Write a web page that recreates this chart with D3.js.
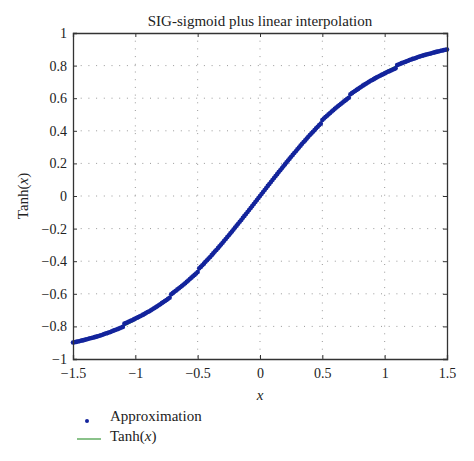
<!DOCTYPE html>
<html>
<head>
<meta charset="utf-8">
<script src="https://cdn.jsdelivr.net/npm/d3@7"></script>
<style>
  body { margin: 0; background: #fff; }
  text { font-family: "Liberation Serif", "DejaVu Serif", serif; fill: #222; }
</style>
</head>
<body>
<svg id="chart"></svg>
<script>
// tick labels
const xTicks = [-1.5, -1, -0.5, 0, 0.5, 1, 1.5];
const yTicks = [-1, -0.8, -0.6, -0.4, -0.2, 0, 0.2, 0.4, 0.6, 0.8, 1];

// approximation samples on the 0.025 grid
const approxX = [
  -1.5, -1.475, -1.45, -1.425, -1.4, -1.375, -1.35, -1.325, -1.3, -1.275,
  -1.25, -1.225, -1.2, -1.175, -1.15, -1.125, -1.1, -1.075, -1.05, -1.025,
  -1, -0.975, -0.95, -0.925, -0.9, -0.875, -0.85, -0.825, -0.8, -0.775,
  -0.75, -0.725, -0.7, -0.675, -0.65, -0.625, -0.6, -0.575, -0.55, -0.525,
  -0.5, -0.475, -0.45, -0.425, -0.4, -0.375, -0.35, -0.325, -0.3, -0.275,
  -0.25, -0.225, -0.2, -0.175, -0.15, -0.125, -0.1, -0.075, -0.05, -0.025,
  0, 0.025, 0.05, 0.075, 0.1, 0.125, 0.15, 0.175, 0.2, 0.225,
  0.25, 0.275, 0.3, 0.325, 0.35, 0.375, 0.4, 0.425, 0.45, 0.475,
  0.5, 0.525, 0.55, 0.575, 0.6, 0.625, 0.65, 0.675, 0.7, 0.725,
  0.75, 0.775, 0.8, 0.825, 0.85, 0.875, 0.9, 0.925, 0.95, 0.975,
  1, 1.025, 1.05, 1.075, 1.1, 1.125, 1.15, 1.175, 1.2, 1.225,
  1.25, 1.275, 1.3, 1.325, 1.35, 1.375, 1.4, 1.425, 1.45, 1.475, 1.5
];
const approxY = [
  -0.899, -0.895, -0.891, -0.886, -0.881, -0.876, -0.871, -0.866, -0.860, -0.854,
  -0.847, -0.841, -0.834, -0.826, -0.819, -0.811, -0.803, -0.779, -0.770, -0.762,
  -0.752, -0.743, -0.733, -0.723, -0.712, -0.701, -0.689, -0.677, -0.664, -0.651,
  -0.638, -0.624, -0.596, -0.581, -0.566, -0.551, -0.535, -0.518, -0.501, -0.484,
  -0.466, -0.435, -0.415, -0.394, -0.374, -0.352, -0.331, -0.309, -0.287, -0.264,
  -0.241, -0.218, -0.194, -0.170, -0.147, -0.122, -0.098, -0.074, -0.049, -0.025,
  0.000, 0.025, 0.049, 0.074, 0.098, 0.122, 0.147, 0.170, 0.194, 0.218,
  0.241, 0.264, 0.287, 0.309, 0.331, 0.352, 0.374, 0.394, 0.415, 0.435,
  0.466, 0.484, 0.501, 0.518, 0.535, 0.551, 0.566, 0.581, 0.596, 0.624,
  0.638, 0.651, 0.664, 0.677, 0.689, 0.701, 0.712, 0.723, 0.733, 0.743,
  0.752, 0.762, 0.770, 0.779, 0.803, 0.811, 0.819, 0.826, 0.834, 0.841,
  0.847, 0.854, 0.860, 0.866, 0.871, 0.876, 0.881, 0.886, 0.891, 0.895, 0.899
];

// approximation samples between those grid points
const approxMidX = [
  -1.4875, -1.4625, -1.4375, -1.4125, -1.3875, -1.3625, -1.3375, -1.3125, -1.2875, -1.2625,
  -1.2375, -1.2125, -1.1875, -1.1625, -1.1375, -1.1125, -1.0875, -1.0625, -1.0375, -1.0125,
  -0.9875, -0.9625, -0.9375, -0.9125, -0.8875, -0.8625, -0.8375, -0.8125, -0.7875, -0.7625,
  -0.7375, -0.7125, -0.6875, -0.6625, -0.6375, -0.6125, -0.5875, -0.5625, -0.5375, -0.5125,
  -0.4875, -0.4625, -0.4375, -0.4125, -0.3875, -0.3625, -0.3375, -0.3125, -0.2875, -0.2625,
  -0.2375, -0.2125, -0.1875, -0.1625, -0.1375, -0.1125, -0.0875, -0.0625, -0.0375, -0.0125,
  0.0125, 0.0375, 0.0625, 0.0875, 0.1125, 0.1375, 0.1625, 0.1875, 0.2125, 0.2375,
  0.2625, 0.2875, 0.3125, 0.3375, 0.3625, 0.3875, 0.4125, 0.4375, 0.4625, 0.4875,
  0.5125, 0.5375, 0.5625, 0.5875, 0.6125, 0.6375, 0.6625, 0.6875, 0.7125, 0.7375,
  0.7625, 0.7875, 0.8125, 0.8375, 0.8625, 0.8875, 0.9125, 0.9375, 0.9625, 0.9875,
  1.0125, 1.0375, 1.0625, 1.0875, 1.1125, 1.1375, 1.1625, 1.1875, 1.2125, 1.2375,
  1.2625, 1.2875, 1.3125, 1.3375, 1.3625, 1.3875, 1.4125, 1.4375, 1.4625, 1.4875
];
const approxMidY = [
  -0.897, -0.893, -0.888, -0.884, -0.879, -0.873, -0.868, -0.863, -0.857, -0.851,
  -0.844, -0.837, -0.830, -0.822, -0.815, -0.807, -0.783, -0.775, -0.766, -0.757,
  -0.747, -0.738, -0.728, -0.717, -0.707, -0.695, -0.683, -0.670, -0.657, -0.644,
  -0.631, -0.603, -0.588, -0.573, -0.558, -0.543, -0.526, -0.509, -0.492, -0.475,
  -0.444, -0.425, -0.404, -0.384, -0.363, -0.341, -0.320, -0.298, -0.275, -0.252,
  -0.229, -0.206, -0.182, -0.158, -0.134, -0.110, -0.086, -0.062, -0.037, -0.012,
  0.012, 0.037, 0.062, 0.086, 0.110, 0.134, 0.158, 0.182, 0.206, 0.229,
  0.252, 0.275, 0.298, 0.320, 0.341, 0.363, 0.384, 0.404, 0.425, 0.444,
  0.475, 0.492, 0.509, 0.526, 0.543, 0.558, 0.573, 0.588, 0.603, 0.631,
  0.644, 0.657, 0.670, 0.683, 0.695, 0.707, 0.717, 0.728, 0.738, 0.747,
  0.757, 0.766, 0.775, 0.783, 0.807, 0.815, 0.822, 0.830, 0.837, 0.844,
  0.851, 0.857, 0.863, 0.868, 0.873, 0.879, 0.884, 0.888, 0.893, 0.897
];

// reference curve
const tanhX = [-1.5, -1.4, -1.3, -1.2, -1.1, -1, -0.9, -0.8, -0.7, -0.6, -0.5, -0.4, -0.3, -0.2, -0.1,
  0, 0.1, 0.2, 0.3, 0.4, 0.5, 0.6, 0.7, 0.8, 0.9, 1, 1.1, 1.2, 1.3, 1.4, 1.5];
const tanhY = [-0.905, -0.885, -0.862, -0.834, -0.801, -0.762, -0.716, -0.664, -0.604, -0.537, -0.462, -0.380, -0.291, -0.197, -0.100,
  0, 0.100, 0.197, 0.291, 0.380, 0.462, 0.537, 0.604, 0.664, 0.716, 0.762, 0.801, 0.834, 0.862, 0.885, 0.905];

const width = 474, height = 461;
const margin = {top: 33, right: 27, bottom: 102, left: 73};
const w = width - margin.left - margin.right;
const h = height - margin.top - margin.bottom;

const blue = "#13249c";
const green = "#3d9a3d";
const serif = "'Liberation Serif', 'DejaVu Serif', serif";

const svg = d3.select("#chart").attr("width", width).attr("height", height);
const g = svg.append("g").attr("transform", "translate(" + margin.left + "," + margin.top + ")");

const x = d3.scaleLinear().domain([-1.5, 1.5]).range([0, w]);
const y = d3.scaleLinear().domain([-1, 1]).range([h, 0]);

// dotted grid
g.append("g").selectAll("line").data(xTicks.slice(1, -1)).enter().append("line")
  .attr("x1", d => x(d)).attr("x2", d => x(d)).attr("y1", 0).attr("y2", h)
  .attr("stroke", "#999").attr("stroke-dasharray", "1,6.7");
g.append("g").selectAll("line").data(yTicks.slice(1, -1)).enter().append("line")
  .attr("y1", d => y(d)).attr("y2", d => y(d)).attr("x1", 0).attr("x2", w)
  .attr("stroke", "#999").attr("stroke-dasharray", "1,6.7");

// tanh line
const line = d3.line().x(d => x(d[0])).y(d => y(d[1])).curve(d3.curveCatmullRom);
g.append("path").datum(d3.zip(tanhX, tanhY)).attr("d", line)
  .attr("fill", "none").attr("stroke", green).attr("stroke-width", 1.2);

// approximation dots
const pts = d3.zip(approxX, approxY).concat(d3.zip(approxMidX, approxMidY));
g.append("g").selectAll("circle").data(pts).enter().append("circle")
  .attr("cx", d => x(d[0])).attr("cy", d => y(d[1])).attr("r", 2.3)
  .attr("fill", blue);

// axes
const fmt = d => d3.format("")(d).replace("-", "\u2212");
g.append("g").attr("transform", "translate(0," + h + ")")
  .call(d3.axisBottom(x).tickValues(xTicks).tickFormat(fmt).tickSize(-4).tickPadding(9));
g.append("g")
  .call(d3.axisLeft(y).tickValues(yTicks).tickFormat(fmt).tickSize(-4).tickPadding(6));
g.append("g").call(d3.axisTop(x).tickValues(xTicks).tickFormat("").tickSize(-4));
g.append("g").attr("transform", "translate(" + w + ",0)")
  .call(d3.axisRight(y).tickValues(yTicks).tickFormat("").tickSize(-4));

g.selectAll(".domain").attr("stroke", "#333").attr("stroke-width", 1.3);
g.selectAll(".tick line").attr("stroke", "#333");
g.selectAll("g[font-family]").attr("font-family", serif).attr("font-size", 14);
g.selectAll(".tick text").attr("fill", "#222");

// labels
svg.append("text").attr("x", margin.left + w / 2).attr("y", 26)
  .attr("text-anchor", "middle").style("font-size", "15px")
  .text("SIG-sigmoid plus linear interpolation");

svg.append("text").attr("x", margin.left + x(0)).attr("y", 400)
  .attr("text-anchor", "middle").style("font-size", "15px").style("font-style", "italic")
  .text("x");

const yl = svg.append("text").attr("transform", "translate(28," + (margin.top + h / 2) + ") rotate(-90)")
  .attr("text-anchor", "middle").style("font-size", "15px");
yl.append("tspan").text("Tanh(");
yl.append("tspan").style("font-style", "italic").text("x");
yl.append("tspan").text(")");

// legend
const legend = svg.append("g");
legend.append("circle").attr("cx", 87).attr("cy", 421).attr("r", 2).attr("fill", blue);
legend.append("text").attr("x", 110).attr("y", 421).style("font-size", "15px").text("Approximation");
legend.append("line").attr("x1", 77).attr("x2", 101).attr("y1", 439).attr("y2", 439)
  .attr("stroke", green).attr("stroke-width", 1.2);
const lt = legend.append("text").attr("x", 110).attr("y", 441).style("font-size", "15px");
lt.append("tspan").text("Tanh(");
lt.append("tspan").style("font-style", "italic").text("x");
lt.append("tspan").text(")");
</script>
</body>
</html>
